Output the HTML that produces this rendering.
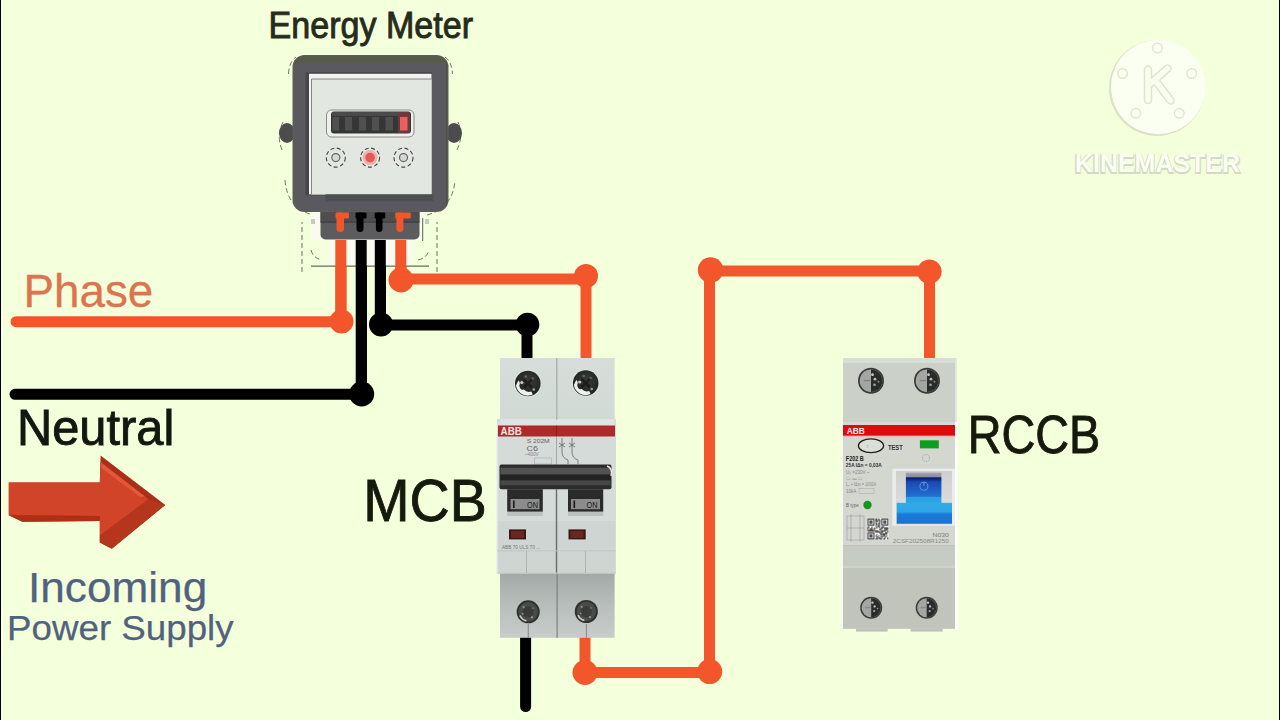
<!DOCTYPE html>
<html><head><meta charset="utf-8">
<style>
html,body{margin:0;padding:0;width:1280px;height:720px;overflow:hidden;background:#f4ffdb;}
svg{display:block;font-family:"Liberation Sans",sans-serif;}
</style></head>
<body>
<svg width="1280" height="720" viewBox="0 0 1280 720">
<rect x="0" y="0" width="1280" height="720" fill="#f4ffdb"/>
<rect x="0" y="0" width="1" height="720" fill="#000"/>
<rect x="1" y="0" width="1" height="720" fill="#fbfff0"/>
<rect x="1279" y="0" width="1" height="720" fill="#000"/>

<!-- texts -->
<g id="texts" stroke-width="0.9">
<text x="268.60" y="38" font-size="36.00" fill="#262c1c" stroke="#262c1c" textLength="204.45" lengthAdjust="spacingAndGlyphs">Energy Meter</text>
<text x="23.60" y="306.5" font-size="46.00" fill="#dc7450" stroke="#dc7450" stroke-width="0.3" textLength="129.63" lengthAdjust="spacingAndGlyphs">Phase</text>
<text x="17.00" y="445.3" font-size="50.5" fill="#121810" stroke="#121810" textLength="157.25" lengthAdjust="spacingAndGlyphs">Neutral</text>
<text x="363.30" y="521.3" font-size="59.5" fill="#161a0c" stroke="#161a0c" textLength="123.45" lengthAdjust="spacingAndGlyphs">MCB</text>
<text x="967.75" y="452.5" font-size="54.50" fill="#161a0c" stroke="#161a0c" textLength="132.51" lengthAdjust="spacingAndGlyphs">RCCB</text>
<text x="28.00" y="601.8" font-size="42.5" fill="#51627f" stroke="#51627f" stroke-width="0.25" textLength="179.26" lengthAdjust="spacingAndGlyphs">Incoming</text>
<text x="7.00" y="639.7" font-size="35.50" fill="#51627f" stroke="#51627f" stroke-width="0.25" textLength="226.63" lengthAdjust="spacingAndGlyphs">Power Supply</text>
</g>

<!-- wires -->
<g id="wires" stroke-linecap="round" stroke-linejoin="round" fill="none">
<g stroke="#f2562a" stroke-width="11">
<path d="M16 321.7 H341 V235"/>
<path d="M401 235 V279 H586 V357"/>
<path d="M585 637 V672.5 H709.5 V271 H929.5 V357"/>
</g>
<g stroke="#000" stroke-width="11">
<path d="M15 394.3 H361.5 V235"/>
<path d="M380.5 235 V325 H527 V357"/>
<path d="M525.6 637 V706.5"/>
</g>
</g>
<g id="dots">
<circle cx="341.5" cy="321.5" r="12" fill="#f2562a"/>
<circle cx="401" cy="280" r="12.5" fill="#f2562a"/>
<circle cx="586" cy="276" r="12" fill="#f2562a"/>
<circle cx="585" cy="672.5" r="12.5" fill="#f2562a"/>
<circle cx="709.7" cy="671.6" r="12.5" fill="#f2562a"/>
<circle cx="710.6" cy="270" r="12.8" fill="#f2562a"/>
<circle cx="929.4" cy="271.7" r="12.2" fill="#f2562a"/>
<circle cx="381" cy="324.6" r="12" fill="#000"/>
<circle cx="527.5" cy="324.6" r="11.8" fill="#000"/>
<circle cx="361.7" cy="394" r="12.5" fill="#000"/>
</g>


<!-- meter -->
<g id="meter">
<g fill="none" stroke="#56594a" stroke-width="1" stroke-dasharray="5 3" opacity="0.85">
<path d="M302 272 V222 M437 272 V222"/>
<path d="M288.5 74 Q289 62 296 57 M445 57 Q452 62 452.5 74"/>
<path d="M285 180 Q287 208 313 215 M427 215 Q453 208 455 180"/>
<path d="M282 150 Q276 135 283 122 M458 122 Q464 135 457 150"/>
<path d="M311 250 Q313 258 322 260 M418 260 Q427 258 429 250"/>
</g>
<!-- wires below block white halo -->
<rect x="329" y="236" width="84" height="30" fill="#f8fbee"/>
<rect x="311" y="265.5" width="118" height="1.3" fill="#4a5040" opacity="0.8"/>
<g stroke-width="11">
<path d="M340.8 234 V320" stroke="#f2562a"/>
<path d="M361.2 234 V392" stroke="#000"/>
<path d="M380.3 234 V322" stroke="#000"/>
<path d="M400.8 234 V278" stroke="#f2562a"/>
</g>
<ellipse cx="287" cy="133" rx="8" ry="10" fill="#4c4c4c"/>
<ellipse cx="454" cy="133" rx="8" ry="10" fill="#4c4c4c"/>
<rect x="311" y="208" width="113" height="32" fill="#f8fbee"/><rect x="311" y="219" width="4" height="5" fill="#c8ccc0"/><rect x="425" y="219" width="4" height="5" fill="#c8ccc0"/><rect x="422.2" y="218" width="1" height="23" fill="#5a6050"/>
<rect x="320.5" y="205" width="99" height="34.5" rx="5" fill="#5c5c5f"/>
<rect x="320.5" y="211" width="99" height="11" fill="#4e4e50"/>
<rect x="320.5" y="221.5" width="99" height="1.2" fill="#3c3c3e"/>
<rect x="292.5" y="55" width="156" height="157" rx="12" fill="#5d6052"/><rect x="293.5" y="55.8" width="154" height="155.5" rx="11" fill="#5a595f"/>
<clipPath id="mbody"><rect x="293.5" y="55.8" width="154" height="155.5" rx="11"/></clipPath>
<g clip-path="url(#mbody)"><rect x="290" y="50" width="160" height="13" fill="#575b4c"/><rect x="290" y="50" width="2" height="170" fill="#50524a"/><rect x="446" y="50" width="2" height="170" fill="#50524a"/></g>
<rect x="305.5" y="72.3" width="126.5" height="123" fill="#46464a"/>
<rect x="309" y="73.8" width="122.5" height="120.5" fill="#f2f3f0"/>
<rect x="311.5" y="79" width="120" height="115.5" fill="#e3e7e2"/>
<path d="M311.5 79 H431.5" stroke="#6a6a6a" stroke-width="0.8"/>
<path d="M311.5 79 V194" stroke="#6a6a6a" stroke-width="0.8"/>

<rect x="325.5" y="194.3" width="108" height="7" fill="#4f4f51"/>
<!-- display -->
<rect x="326.5" y="110" width="87.5" height="27" rx="5" fill="#eef0ec" stroke="#8a8c88" stroke-width="1"/>
<rect x="331" y="111.5" width="80" height="22" rx="3" fill="#363636"/>
<rect x="332" y="112" width="78" height="4" fill="#4a4a4a"/>
<g fill="#505050">
<rect x="332.5" y="117" width="6.5" height="13.5"/>
<rect x="345" y="117" width="7" height="13.5"/>
<rect x="359" y="117" width="7" height="13.5"/>
<rect x="372" y="117" width="7" height="13.5"/>
<rect x="385.5" y="117" width="7.5" height="13.5"/>
</g>
<rect x="398" y="112" width="12" height="21" fill="#6a3a3a"/>
<rect x="400" y="117" width="7.5" height="13.5" fill="#e86060"/>
<!-- buttons -->
<g fill="none" stroke="#444" stroke-width="1.1" stroke-dasharray="4 2.5">
<circle cx="335.8" cy="157.6" r="9.5"/>
<circle cx="370.1" cy="157.6" r="9.5"/>
<circle cx="403.5" cy="157.6" r="9.5"/>
</g>
<circle cx="335.8" cy="157.6" r="4" fill="#d6d8d4" stroke="#666" stroke-width="1.2"/>
<circle cx="403.5" cy="157.6" r="4" fill="#d6d8d4" stroke="#666" stroke-width="1.2"/>
<circle cx="370.1" cy="157.6" r="7.5" fill="#f0b0b0"/>
<circle cx="370.1" cy="157.6" r="4.8" fill="#e55858"/>
<!-- terminals -->
<g fill="#f2562a">
<rect x="335.5" y="212.5" width="13.5" height="6" rx="1"/>
<rect x="336.5" y="212.5" width="7.5" height="19.5" rx="3.5"/>
<rect x="395.2" y="212.5" width="15.5" height="6" rx="1"/>
<rect x="396.4" y="212.5" width="7" height="19.5" rx="3.5"/>
</g>
<g fill="#000">
<rect x="355.5" y="212.5" width="11" height="6" rx="1"/>
<rect x="356.5" y="212.5" width="7" height="19.5" rx="3.5"/>
<rect x="374.7" y="212.5" width="10.5" height="6" rx="1"/>
<rect x="375.9" y="212.5" width="6.6" height="19.5" rx="3.3"/>
</g>
</g>


<!-- arrow -->
<g id="arrow">
<polygon points="8.8,482.5 99.8,482.5 100.6,455.4 165.3,504.9 111.8,548.8 99.8,542.4 99.8,521 22.4,521.7 8.8,515.3" fill="#a83018"/>
<polygon points="8.8,515.3 99.8,516.5 99.8,542.4 111.8,548.8 165.3,504.9 148.5,499.3 99.8,535.5 99.8,516 " fill="#b5361c"/>
<polygon points="8.8,482.5 99.8,482.5 100.6,462 148.5,499.3 99.8,535.5 99.8,516 8.8,515.3" fill="#d1442a"/>
<polygon points="101.5,463 145,496.5 140,497 101.5,468" fill="#e25838"/>
<polygon points="8.8,515.3 99.8,516 99.8,521 22.4,521.7" fill="#b02e14"/>
</g>


<!-- MCB -->
<defs>
<linearGradient id="gtop" x1="0" y1="0" x2="0" y2="1"><stop offset="0" stop-color="#d6ddda"/><stop offset="1" stop-color="#d1d9d5"/></linearGradient>
<linearGradient id="gbot" x1="0" y1="0" x2="0" y2="1"><stop offset="0" stop-color="#a2aaa7"/><stop offset="0.5" stop-color="#b8bebc"/><stop offset="1" stop-color="#c8cdcb"/></linearGradient>
<radialGradient id="gscrew" cx="0.55" cy="0.4" r="0.6"><stop offset="0" stop-color="#3a3d3a"/><stop offset="1" stop-color="#1e201e"/></radialGradient>
<symbol id="screw" viewBox="-13 -13 26 26" overflow="visible">
<circle r="13.8" fill="#e6ebe8" opacity="0.6"/>
<circle r="12.8" fill="url(#gscrew)"/>
<path d="M-11.8 2 A11.8 11.8 0 0 0 5 11 L3.5 8 Q-1 9.5 -4 6 Q-8 7 -8.5 2 Q-7 -1 -9.5 -3 Z" fill="#eef1ee"/>
<circle cx="-6" cy="-1" r="1.6" fill="#c8ccc8"/>
<circle cx="6" cy="6" r="1.3" fill="#9a9e9a"/>
<circle cx="-2" cy="-7" r="1.2" fill="#6a6e6a"/>
<circle cx="5" cy="-5" r="1.3" fill="#5a5e5a"/>
<path d="M-4 -4 L4 4 M4 -4 L-4 4" stroke="#141414" stroke-width="2.5" opacity="0.7"/>
</symbol>
<symbol id="screw3" viewBox="-13 -13 26 26" overflow="visible">
<circle r="12.5" fill="#2e302e"/>
<circle r="10.5" fill="#4a4c4a"/>
<circle r="6" fill="#3a3c3a"/>
<path d="M-9 4 A10 10 0 0 0 -2 9.8" stroke="#c8cac8" stroke-width="1.8" fill="none"/>
<circle cx="-5" cy="-5" r="1.2" fill="#8a8c8a"/><circle cx="5" cy="-4" r="1" fill="#7a7c7a"/><circle cx="4" cy="6" r="1.2" fill="#9a9c9a"/><circle cx="-6" cy="2" r="1" fill="#8a8c8a"/>
</symbol>
<symbol id="screw2" viewBox="-13 -13 26 26" overflow="visible">
<circle r="13" fill="#3a3c3a"/>
<circle r="11.3" fill="#a4a6a4"/>
<path d="M0 -11.3 A11.3 11.3 0 0 1 0 11.3 Z" fill="#2a2c2a"/>
<circle cx="1.5" cy="-6" r="1.4" fill="#c8cac8"/><circle cx="4" cy="-1.5" r="1.4" fill="#b8bab8"/><circle cx="3.5" cy="4" r="1.3" fill="#a8aaa8"/><circle cx="7.5" cy="1" r="1" fill="#888"/>
<path d="M-7 0 H-1" stroke="#777" stroke-width="1"/>
</symbol>
</defs>
<g id="mcb">
<rect x="497" y="419" width="119" height="154" fill="#d4dbd8"/><rect x="496" y="436" width="1.5" height="137" fill="#eef2ee"/>
<rect x="500" y="358" width="114.6" height="62" fill="url(#gtop)"/>
<rect x="500" y="419" width="114.6" height="6.5" fill="#dee4e1"/>
<rect x="556.2" y="358" width="1.2" height="62" fill="#a4aca8"/>
<use href="#screw" x="527.8" y="383.5" width="26" height="26" transform="translate(-13 -13)"/>
<use href="#screw" x="585.7" y="383" width="26" height="26" transform="translate(-13 -13)"/>
<rect x="498" y="425.5" width="117" height="11.2" fill="#ae2a2a"/>
<rect x="556.2" y="425.5" width="0.8" height="11.2" fill="#8a1a1a"/>
<text x="500.6" y="434.8" font-size="11" font-weight="bold" fill="#f4e4e4" textLength="21.3" lengthAdjust="spacingAndGlyphs">ABB</text>
<rect x="498" y="436.7" width="117" height="28" fill="#d4dbd8"/>
<rect x="556.2" y="436.7" width="0.8" height="28" fill="#9a9c9a"/>
<text x="526.7" y="443" font-size="5.6" fill="#666" textLength="23" lengthAdjust="spacingAndGlyphs">S 202M</text>
<text x="526.5" y="450.8" font-size="7.8" fill="#666" textLength="11.5" lengthAdjust="spacingAndGlyphs">C6</text>
<text x="524.8" y="456.2" font-size="4.6" fill="#888" textLength="14" lengthAdjust="spacingAndGlyphs">~400V</text>
<rect x="534.5" y="458" width="17" height="6" fill="none" stroke="#aaa" stroke-width="0.6"/>
<g stroke="#666" stroke-width="0.8" fill="none">
<path d="M562 438 V452 Q562 458 568 460 V464 M572 438 V452 Q572 458 578 460 V464"/>
<path d="M559 443 l6 4 M565 443 l-6 4 M569 443 l6 4 M575 443 l-6 4"/>
</g>
<!-- rocker -->
<rect x="499.5" y="464.6" width="112" height="24.6" rx="2" fill="#2c2c2c"/>
<rect x="500.5" y="467.8" width="110" height="6.8" fill="#525252"/>
<rect x="500.5" y="474.6" width="110" height="5.8" fill="#232323"/>
<rect x="500.5" y="480.4" width="110" height="4.9" fill="#474747"/>
<path d="M607 466 Q613 468 611 476" stroke="#e8e8e8" stroke-width="1.5" fill="none"/>
<!-- windows -->
<rect x="507.2" y="511.6" width="35.6" height="4.4" fill="#bac1be"/>
<rect x="568" y="511.6" width="35.2" height="4.4" fill="#bac1be"/>
<rect x="507.2" y="489.2" width="35.6" height="22.4" fill="#2a2a2a"/>
<rect x="568" y="489.2" width="35.2" height="22.4" fill="#2a2a2a"/>
<rect x="510.5" y="499" width="29" height="10.2" fill="#8c8c8c"/>
<rect x="571" y="499" width="29" height="10.2" fill="#8c8c8c"/>
<g font-size="9.5" fill="#1a1a1a">
<rect x="513" y="500.5" width="1.6" height="7.5"/><text x="527" y="508.2" textLength="11" lengthAdjust="spacingAndGlyphs">ON</text>
<rect x="573.5" y="500.5" width="1.6" height="7.5"/><text x="586.5" y="508.2" textLength="11" lengthAdjust="spacingAndGlyphs">ON</text>
</g>
<rect x="498" y="521" width="117" height="52" fill="#ced5d2"/>
<rect x="555.8" y="489" width="1.4" height="84" fill="#6a6c6a"/>

<rect x="509" y="529.4" width="17" height="10" fill="#3a1816"/>
<rect x="511" y="531" width="13" height="7" fill="#6a2620"/>
<rect x="568.5" y="529.4" width="17.2" height="10" fill="#3a1816"/>
<rect x="570.5" y="531" width="13" height="7" fill="#6a2620"/>
<text x="502" y="548.5" font-size="4.5" fill="#777" textLength="38" lengthAdjust="spacingAndGlyphs">ABB 70 ULS 70 ...</text>
<rect x="497" y="550.3" width="119" height="1" fill="#c2c4c2"/>
<rect x="497" y="572.5" width="119" height="1.2" fill="#c8cac8"/>
<rect x="526" y="551" width="0.8" height="22" fill="#a8aaa8"/>
<rect x="585.2" y="551" width="0.8" height="22" fill="#a8aaa8"/>
<!-- bottom cover -->
<rect x="500" y="573.6" width="114.6" height="64.2" fill="url(#gbot)"/>
<rect x="556.5" y="573.6" width="1.2" height="64.2" fill="#7a827e"/>
<use href="#screw3" x="528.2" y="611.8" width="24" height="24" transform="translate(-12 -12)"/>
<use href="#screw3" x="586.3" y="611.5" width="24" height="24" transform="translate(-12 -12)"/>
<rect x="527.8" y="624" width="0.8" height="14" fill="#777"/>
<rect x="585.9" y="624" width="0.8" height="14" fill="#777"/>
</g>


<!-- RCCB -->
<defs>
<linearGradient id="gblue1" x1="0" y1="0" x2="0" y2="1"><stop offset="0" stop-color="#a4a6b4"/><stop offset="0.14" stop-color="#8a8ca0"/><stop offset="0.17" stop-color="#0a1a60"/><stop offset="0.3" stop-color="#1848b0"/><stop offset="0.78" stop-color="#2470d2"/><stop offset="0.8" stop-color="#2aa2e2"/><stop offset="1" stop-color="#2aa4e4"/></linearGradient>
<linearGradient id="gblue2" x1="0" y1="0" x2="0" y2="1"><stop offset="0" stop-color="#34ace8"/><stop offset="0.42" stop-color="#2ca4e6"/><stop offset="0.55" stop-color="#1a7ad8"/><stop offset="1" stop-color="#1a74d4"/></linearGradient>
<linearGradient id="grec" x1="0" y1="0" x2="0" y2="1"><stop offset="0" stop-color="#cfcfcf"/><stop offset="1" stop-color="#e4e4e4"/></linearGradient>
</defs>
<g id="rccb">
<rect x="843" y="358" width="112" height="270.6" fill="#d2d6cf"/>
<rect x="843" y="358" width="112" height="64" fill="#cbd1c9"/>
<rect x="843" y="358" width="112" height="5" fill="#d8ddd6"/>
<use href="#screw2" x="871" y="380.7" width="26" height="26" transform="translate(-13 -13)"/>
<use href="#screw2" x="927" y="380.7" width="26" height="26" transform="translate(-13 -13)"/>
<rect x="843" y="422" width="112" height="3" fill="#d6dad4"/>
<rect x="843" y="425" width="112" height="10.8" fill="#dc0c0e"/>
<rect x="843" y="435.8" width="112" height="1.5" fill="#e8b8b0"/>
<text x="846.7" y="434" font-size="9.5" font-weight="bold" fill="#fbeeee" textLength="18" lengthAdjust="spacingAndGlyphs">ABB</text>
<rect x="843" y="437.3" width="112" height="108" fill="#d3d7d0"/>
<ellipse cx="871" cy="445.7" rx="12.6" ry="6.9" fill="#dcdfd8" stroke="#1e1e1e" stroke-width="1.3"/>
<text x="866" y="448" font-size="4" fill="#999">T</text>
<text x="888" y="449.6" font-size="7.2" font-weight="bold" fill="#333" textLength="14.7" lengthAdjust="spacingAndGlyphs">TEST</text>
<rect x="919.9" y="440.3" width="18.9" height="8.1" fill="#0c9e1c"/>
<circle cx="926" cy="458" r="3.5" fill="none" stroke="#999" stroke-width="0.8" stroke-dasharray="1.2 1"/>
<text x="845.8" y="461" font-size="6.5" font-weight="bold" fill="#222" textLength="18" lengthAdjust="spacingAndGlyphs">F202 B</text>
<text x="845.8" y="467.4" font-size="5" font-weight="bold" fill="#333" textLength="36" lengthAdjust="spacingAndGlyphs">25A  IΔn = 0,03A</text>
<g font-size="4.5" fill="#888">
<text x="846" y="473.5">U₀ =230V ~</text>
<text x="846" y="479.5" fill="#aaa">▭ ▬ ▭</text>
<text x="846" y="486" textLength="30" lengthAdjust="spacingAndGlyphs">Iₘ + IΔm = 1000A</text>
<text x="846" y="492.5">10kA</text>
</g>
<rect x="859" y="488.5" width="15" height="5" fill="none" stroke="#aaa" stroke-width="0.6"/>
<text x="846" y="507" font-size="4.5" fill="#666">B type</text>
<circle cx="867.5" cy="505" r="4.2" fill="#14981a"/>
<g stroke="#999" stroke-width="0.6" fill="none">
<rect x="847" y="516" width="17" height="24"/>
<path d="M851 514 V542 M860 514 V542 M847 528 H864"/>
</g>
<g fill="#1e1e1e"><rect x="867" y="518.1" width="21.8" height="21.8" fill="#f0f0f0"/><rect x="867.50" y="518.60" width="6.93" height="0.99"/><rect x="875.42" y="518.60" width="1.98" height="0.99"/><rect x="878.40" y="518.60" width="0.99" height="0.99"/><rect x="881.37" y="518.60" width="6.93" height="0.99"/><rect x="867.50" y="519.59" width="0.99" height="0.99"/><rect x="873.44" y="519.59" width="0.99" height="0.99"/><rect x="875.42" y="519.59" width="1.98" height="0.99"/><rect x="878.40" y="519.59" width="1.98" height="0.99"/><rect x="881.37" y="519.59" width="0.99" height="0.99"/><rect x="887.31" y="519.59" width="0.99" height="0.99"/><rect x="867.50" y="520.58" width="0.99" height="0.99"/><rect x="869.48" y="520.58" width="2.97" height="0.99"/><rect x="873.44" y="520.58" width="0.99" height="0.99"/><rect x="875.42" y="520.58" width="2.97" height="0.99"/><rect x="879.39" y="520.58" width="0.99" height="0.99"/><rect x="881.37" y="520.58" width="0.99" height="0.99"/><rect x="883.35" y="520.58" width="2.97" height="0.99"/><rect x="887.31" y="520.58" width="0.99" height="0.99"/><rect x="867.50" y="521.57" width="0.99" height="0.99"/><rect x="869.48" y="521.57" width="2.97" height="0.99"/><rect x="873.44" y="521.57" width="0.99" height="0.99"/><rect x="875.42" y="521.57" width="0.99" height="0.99"/><rect x="879.39" y="521.57" width="0.99" height="0.99"/><rect x="881.37" y="521.57" width="0.99" height="0.99"/><rect x="883.35" y="521.57" width="2.97" height="0.99"/><rect x="887.31" y="521.57" width="0.99" height="0.99"/><rect x="867.50" y="522.56" width="0.99" height="0.99"/><rect x="869.48" y="522.56" width="2.97" height="0.99"/><rect x="873.44" y="522.56" width="0.99" height="0.99"/><rect x="876.41" y="522.56" width="0.99" height="0.99"/><rect x="878.40" y="522.56" width="1.98" height="0.99"/><rect x="881.37" y="522.56" width="0.99" height="0.99"/><rect x="883.35" y="522.56" width="2.97" height="0.99"/><rect x="887.31" y="522.56" width="0.99" height="0.99"/><rect x="867.50" y="523.55" width="0.99" height="0.99"/><rect x="873.44" y="523.55" width="0.99" height="0.99"/><rect x="875.42" y="523.55" width="1.98" height="0.99"/><rect x="878.40" y="523.55" width="0.99" height="0.99"/><rect x="881.37" y="523.55" width="0.99" height="0.99"/><rect x="887.31" y="523.55" width="0.99" height="0.99"/><rect x="867.50" y="524.54" width="6.93" height="0.99"/><rect x="876.41" y="524.54" width="0.99" height="0.99"/><rect x="878.40" y="524.54" width="1.98" height="0.99"/><rect x="881.37" y="524.54" width="6.93" height="0.99"/><rect x="875.42" y="525.53" width="0.99" height="0.99"/><rect x="877.40" y="525.53" width="1.98" height="0.99"/><rect x="867.50" y="526.52" width="1.98" height="0.99"/><rect x="871.46" y="526.52" width="0.99" height="0.99"/><rect x="876.41" y="526.52" width="0.99" height="0.99"/><rect x="878.40" y="526.52" width="1.98" height="0.99"/><rect x="881.37" y="526.52" width="2.97" height="0.99"/><rect x="867.50" y="527.51" width="0.99" height="0.99"/><rect x="871.46" y="527.51" width="0.99" height="0.99"/><rect x="874.43" y="527.51" width="0.99" height="0.99"/><rect x="876.41" y="527.51" width="0.99" height="0.99"/><rect x="881.37" y="527.51" width="1.98" height="0.99"/><rect x="884.34" y="527.51" width="3.96" height="0.99"/><rect x="867.50" y="528.50" width="0.99" height="0.99"/><rect x="869.48" y="528.50" width="2.97" height="0.99"/><rect x="873.44" y="528.50" width="1.98" height="0.99"/><rect x="879.39" y="528.50" width="2.97" height="0.99"/><rect x="884.34" y="528.50" width="3.96" height="0.99"/><rect x="867.50" y="529.50" width="0.99" height="0.99"/><rect x="869.48" y="529.50" width="3.96" height="0.99"/><rect x="879.39" y="529.50" width="0.99" height="0.99"/><rect x="884.34" y="529.50" width="2.97" height="0.99"/><rect x="867.50" y="530.49" width="10.90" height="0.99"/><rect x="880.38" y="530.49" width="4.95" height="0.99"/><rect x="887.31" y="530.49" width="0.99" height="0.99"/><rect x="875.42" y="531.48" width="4.95" height="0.99"/><rect x="881.37" y="531.48" width="1.98" height="0.99"/><rect x="885.33" y="531.48" width="0.99" height="0.99"/><rect x="887.31" y="531.48" width="0.99" height="0.99"/><rect x="867.50" y="532.47" width="6.93" height="0.99"/><rect x="879.39" y="532.47" width="2.97" height="0.99"/><rect x="885.33" y="532.47" width="1.98" height="0.99"/><rect x="867.50" y="533.46" width="0.99" height="0.99"/><rect x="873.44" y="533.46" width="0.99" height="0.99"/><rect x="880.38" y="533.46" width="0.99" height="0.99"/><rect x="882.36" y="533.46" width="4.95" height="0.99"/><rect x="867.50" y="534.45" width="0.99" height="0.99"/><rect x="869.48" y="534.45" width="2.97" height="0.99"/><rect x="873.44" y="534.45" width="0.99" height="0.99"/><rect x="876.41" y="534.45" width="0.99" height="0.99"/><rect x="880.38" y="534.45" width="4.95" height="0.99"/><rect x="867.50" y="535.44" width="0.99" height="0.99"/><rect x="869.48" y="535.44" width="2.97" height="0.99"/><rect x="873.44" y="535.44" width="0.99" height="0.99"/><rect x="875.42" y="535.44" width="0.99" height="0.99"/><rect x="878.40" y="535.44" width="0.99" height="0.99"/><rect x="883.35" y="535.44" width="1.98" height="0.99"/><rect x="886.32" y="535.44" width="0.99" height="0.99"/><rect x="867.50" y="536.43" width="0.99" height="0.99"/><rect x="869.48" y="536.43" width="2.97" height="0.99"/><rect x="873.44" y="536.43" width="0.99" height="0.99"/><rect x="876.41" y="536.43" width="1.98" height="0.99"/><rect x="880.38" y="536.43" width="2.97" height="0.99"/><rect x="885.33" y="536.43" width="0.99" height="0.99"/><rect x="867.50" y="537.42" width="0.99" height="0.99"/><rect x="873.44" y="537.42" width="0.99" height="0.99"/><rect x="876.41" y="537.42" width="0.99" height="0.99"/><rect x="878.40" y="537.42" width="1.98" height="0.99"/><rect x="884.34" y="537.42" width="0.99" height="0.99"/><rect x="887.31" y="537.42" width="0.99" height="0.99"/><rect x="867.50" y="538.41" width="6.93" height="0.99"/><rect x="875.42" y="538.41" width="2.97" height="0.99"/><rect x="879.39" y="538.41" width="2.97" height="0.99"/><rect x="883.35" y="538.41" width="1.98" height="0.99"/><rect x="887.31" y="538.41" width="0.99" height="0.99"/></g>
<text x="932.5" y="537" font-size="6" fill="#777" textLength="16.3" lengthAdjust="spacingAndGlyphs">N030</text>
<text x="892.8" y="543" font-size="6" fill="#888" textLength="56" lengthAdjust="spacingAndGlyphs">2CSF202508R1250</text>
<!-- switch recess -->
<rect x="892.3" y="468.7" width="62.7" height="57" fill="#ececeb"/>
<rect x="896" y="471" width="56" height="54" fill="url(#grec)"/>
<rect x="905.9" y="472.6" width="35.5" height="30.5" fill="url(#gblue1)"/>
<circle cx="923.9" cy="486.3" r="4" fill="none" stroke="#5a90e0" stroke-width="1.1"/>
<rect x="923.3" y="481.5" width="1.2" height="4.5" fill="#5a90e0"/>
<rect x="896.7" y="502.8" width="55.3" height="21" fill="url(#gblue2)"/>
<rect x="955" y="358" width="2" height="64" fill="#e2e8da"/><rect x="955" y="422" width="3" height="208" fill="#fbfff6"/><rect x="841.5" y="420" width="1.5" height="210" fill="#f6f8f2"/>
<rect x="843" y="545" width="112" height="1" fill="#bfc0be"/>
<rect x="843" y="546" width="112" height="21" fill="#c7ccc3"/>
<rect x="843" y="566.5" width="112" height="1.2" fill="#d6dad2"/>
<rect x="843" y="567.7" width="112" height="61" fill="#c1c4bb"/>
<use href="#screw2" x="871.2" y="607.7" width="22" height="22" transform="translate(-11 -11)"/>
<use href="#screw2" x="926.7" y="607.7" width="22" height="22" transform="translate(-11 -11)"/>
<rect x="856" y="628.6" width="31.7" height="3" fill="#c0c1bf"/>
<rect x="910.6" y="628.6" width="32.1" height="3" fill="#c0c1bf"/>
</g>


<!-- watermark -->
<g id="wm">
<circle cx="1157" cy="88" r="48" fill="#d9e2c6"/>
<circle cx="1158.2" cy="87" r="47.2" fill="#fbfff1"/>
<g fill="none" stroke="#dfe7cd" stroke-width="1.5">
<circle cx="1157.5" cy="48" r="4.8"/>
<circle cx="1122.5" cy="73.5" r="4.8"/>
<circle cx="1191.7" cy="73.5" r="4.8"/>
<circle cx="1135.8" cy="113.3" r="4.8"/>
<circle cx="1179.2" cy="113.3" r="4.8"/>
</g>
<g fill="none" stroke-linecap="round" stroke-linejoin="round">
<path d="M1148 69.5 V100 M1150 84 L1167.5 68.5 M1155 80 L1170.5 100.5" stroke="#dde5cc" stroke-width="8.5"/>
<path d="M1148 69.5 V100 M1150 84 L1167.5 68.5 M1155 80 L1170.5 100.5" stroke="#f9fdee" stroke-width="5.5"/>
</g>
<text x="1074.4" y="173" font-size="26" font-weight="bold" fill="#d2dac2" stroke="#d2dac2" stroke-width="2.2" stroke-linejoin="round" textLength="166" lengthAdjust="spacingAndGlyphs">KINEMASTER</text>
<text x="1075" y="172" font-size="26" font-weight="bold" fill="#fbfff2" textLength="165" lengthAdjust="spacingAndGlyphs">KINEMASTER</text>
</g>

</svg>
</body></html>
